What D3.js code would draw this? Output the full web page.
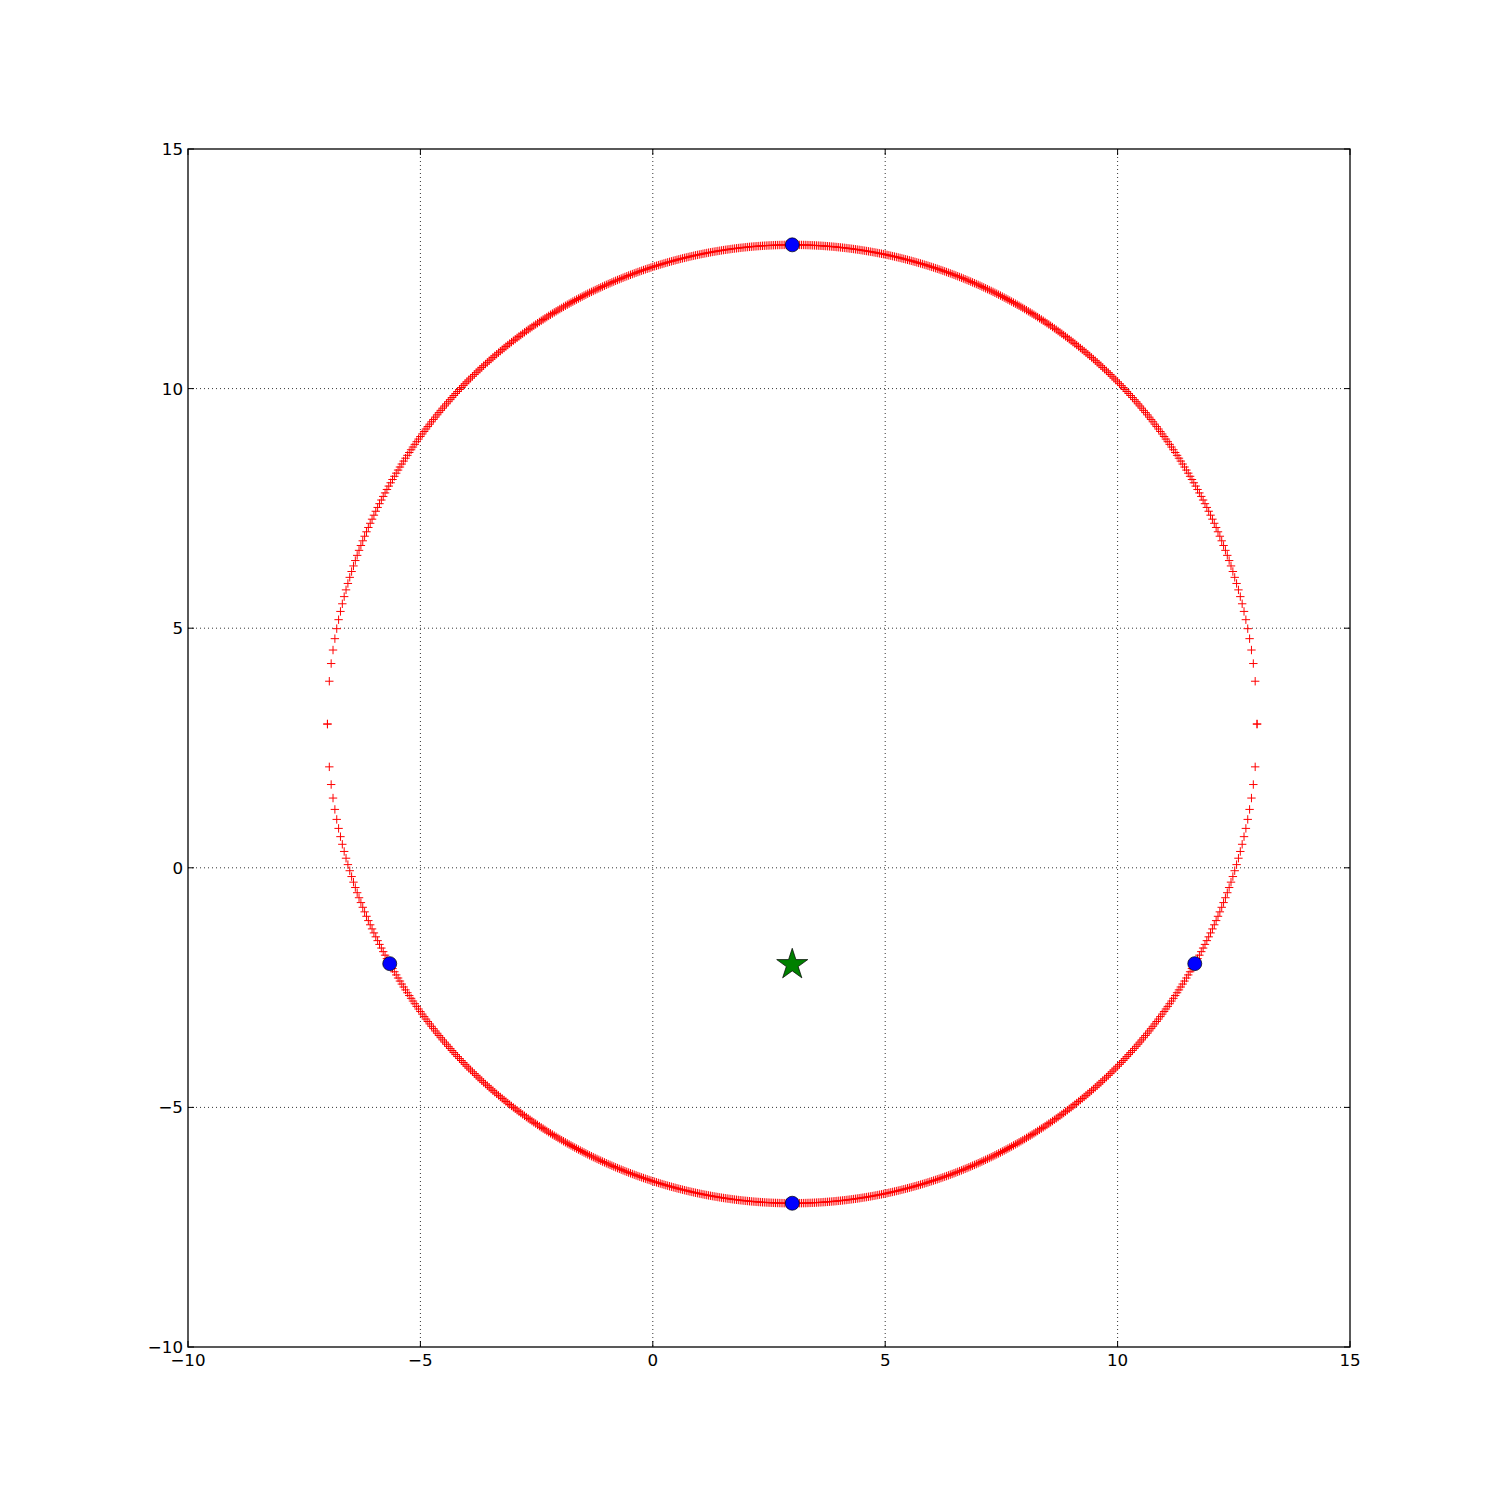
<!DOCTYPE html>
<html>
<head>
<meta charset="utf-8">
<script src="https://cdn.jsdelivr.net/npm/d3@7"></script>
<style>
  html, body { margin: 0; padding: 0; background: #fff; }
  svg { display: block; }
</style>
</head>
<body>
<svg id="chart"></svg>
<script>
/* Circle sample plot — red '+' samples, blue key points, green centre star */

// ── Data ─────────────────────────────────────────────────────────────────
// The '+' samples sit on the circle (x-3)^2 + (y-3)^2 = 10^2, taken every
// 0.04 along x from -7 to 13 (read off the spacing near the sides).
const CIRCLE_CENTER = [3, 3];
const CIRCLE_RADIUS = 10;
const SAMPLE_X_START = -7;
const SAMPLE_X_END = 13;
const SAMPLE_STEP = 0.04;

const keyPointsX = [3, 3, -5.66, 11.66];
const keyPointsY = [13, -7, -2, -2];

const starX = [3];
const starY = [-2];

const xTicks = [-10, -5, 0, 5, 10, 15];
const yTicks = [-10, -5, 0, 5, 10, 15];

// ── Layout ───────────────────────────────────────────────────────────────
const W = 1500, H = 1497;
const MARGIN = { top: 149, right: 150, bottom: 150, left: 188 };
const width = W - MARGIN.left - MARGIN.right;
const height = H - MARGIN.top - MARGIN.bottom;
const FONT = '"DejaVu Sans", sans-serif';
const TICK_LEN = 6;

const svg = d3.select('#chart').attr('width', W).attr('height', H);

const g = svg.append('g')
  .attr('transform', `translate(${MARGIN.left},${MARGIN.top})`);

const x = d3.scaleLinear().domain([-10, 15]).range([0, width]);
const y = d3.scaleLinear().domain([-10, 15]).range([height, 0]);

const fmt = d => (d < 0 ? '\u2212' + Math.abs(d) : String(d));

// ── Grid (dotted) ────────────────────────────────────────────────────────
const grid = g.append('g').attr('class', 'grid');
grid.selectAll('.gx')
  .data(xTicks.filter(d => d > -10 && d < 15))
  .enter().append('line')
  .attr('x1', d => x(d)).attr('x2', d => x(d))
  .attr('y1', 0).attr('y2', height)
  .attr('stroke', '#000').attr('stroke-width', 0.8)
  .attr('stroke-dasharray', '1,3');
grid.selectAll('.gy')
  .data(yTicks.filter(d => d > -10 && d < 15))
  .enter().append('line')
  .attr('y1', d => y(d)).attr('y2', d => y(d))
  .attr('x1', 0).attr('x2', width)
  .attr('stroke', '#000').attr('stroke-width', 0.8)
  .attr('stroke-dasharray', '1,3');

// ── Circle samples ('r+') ────────────────────────────────────────────────
const samples = [];
const nSteps = Math.round((SAMPLE_X_END - SAMPLE_X_START) / SAMPLE_STEP);
for (let i = 0; i <= nSteps; i++) {
  const sx = SAMPLE_X_START + i * SAMPLE_STEP;
  const dx = sx - CIRCLE_CENTER[0];
  const dy = Math.sqrt(Math.max(0, CIRCLE_RADIUS * CIRCLE_RADIUS - dx * dx));
  samples.push([sx, CIRCLE_CENTER[1] + dy]);
  samples.push([sx, CIRCLE_CENTER[1] - dy]);
}

const plus = d3.symbol().type(d3.symbolCross);
const PLUS_HALF = 4.2;
g.append('g').attr('class', 'samples')
  .selectAll('path')
  .data(samples)
  .enter().append('path')
  .attr('d', d => {
    const px = x(d[0]), py = y(d[1]);
    return `M${px - PLUS_HALF},${py}H${px + PLUS_HALF}M${px},${py - PLUS_HALF}V${py + PLUS_HALF}`;
  })
  .attr('stroke', '#ff0000')
  .attr('stroke-width', 1)
  .attr('fill', 'none');

// ── Key points ('bo') ────────────────────────────────────────────────────
g.append('g').attr('class', 'key-points')
  .selectAll('circle')
  .data(keyPointsX.map((v, i) => [v, keyPointsY[i]]))
  .enter().append('circle')
  .attr('cx', d => x(d[0]))
  .attr('cy', d => y(d[1]))
  .attr('r', 7)
  .attr('fill', '#0000ff')
  .attr('stroke', '#000')
  .attr('stroke-width', 0.7);

// ── Centre star ('g*') ───────────────────────────────────────────────────
const star = d3.symbol().type(d3.symbolStar).size(300);
g.append('g').attr('class', 'star')
  .selectAll('path')
  .data(starX.map((v, i) => [v, starY[i]]))
  .enter().append('path')
  .attr('d', star)
  .attr('transform', d => `translate(${x(d[0])},${y(d[1]) + 1})`)
  .attr('fill', '#008000')
  .attr('stroke', '#000')
  .attr('stroke-width', 0.7);

// ── Frame + inward ticks ─────────────────────────────────────────────────
g.append('rect')
  .attr('width', width).attr('height', height)
  .attr('fill', 'none').attr('stroke', '#000').attr('stroke-width', 1.3);

const ticks = g.append('g').attr('class', 'ticks');
xTicks.forEach(d => {
  ticks.append('line').attr('x1', x(d)).attr('x2', x(d))
    .attr('y1', height).attr('y2', height - TICK_LEN)
    .attr('stroke', '#000').attr('stroke-width', 1);
  ticks.append('line').attr('x1', x(d)).attr('x2', x(d))
    .attr('y1', 0).attr('y2', TICK_LEN)
    .attr('stroke', '#000').attr('stroke-width', 1);
});
yTicks.forEach(d => {
  ticks.append('line').attr('y1', y(d)).attr('y2', y(d))
    .attr('x1', 0).attr('x2', TICK_LEN)
    .attr('stroke', '#000').attr('stroke-width', 1);
  ticks.append('line').attr('y1', y(d)).attr('y2', y(d))
    .attr('x1', width).attr('x2', width - TICK_LEN)
    .attr('stroke', '#000').attr('stroke-width', 1);
});

// ── Tick labels ──────────────────────────────────────────────────────────
g.append('g').attr('class', 'x-labels')
  .selectAll('text')
  .data(xTicks)
  .enter().append('text')
  .attr('x', d => x(d))
  .attr('y', height + 19)
  .attr('text-anchor', 'middle')
  .attr('font-family', FONT)
  .attr('font-size', '16.7px')
  .attr('fill', '#000')
  .text(fmt);

g.append('g').attr('class', 'y-labels')
  .selectAll('text')
  .data(yTicks)
  .enter().append('text')
  .attr('x', -5)
  .attr('y', d => y(d) + 6)
  .attr('text-anchor', 'end')
  .attr('font-family', FONT)
  .attr('font-size', '16.7px')
  .attr('fill', '#000')
  .text(fmt);
</script>
</body>
</html>
